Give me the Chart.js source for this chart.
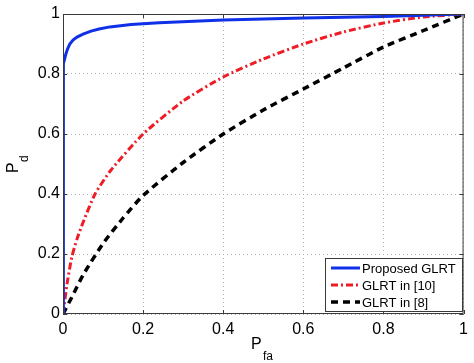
<!DOCTYPE html>
<html>
<head>
<meta charset="utf-8">
<script src="https://cdn.jsdelivr.net/npm/chart.js@4.4.0/dist/chart.umd.min.js"></script>
<style>
  html, body { margin: 0; padding: 0; background: #fff; }
  #wrap { width: 474px; height: 363px; position: relative; }
</style>
</head>
<body>
<div id="wrap"><canvas id="roc"></canvas></div>
<script>
// ROC curves (Pfa -> Pd)
const pfaProposed = [0, 0, 0.001, 0.002, 0.004, 0.007, 0.011, 0.017, 0.025, 0.035, 0.05, 0.07, 0.09, 0.117, 0.17, 0.24, 0.4, 0.6, 0.8, 1];
const pdProposed  = [0, 0.8, 0.82, 0.835, 0.85, 0.866, 0.882, 0.9, 0.913, 0.923, 0.933, 0.943, 0.95, 0.957, 0.965, 0.971, 0.98, 0.987, 0.992, 1];

const pfaGlrt10 = [0, 0.004, 0.01, 0.022, 0.035, 0.05, 0.08, 0.12, 0.2, 0.3, 0.4, 0.5, 0.6, 0.7, 0.8, 0.9, 1];
const pdGlrt10  = [0, 0.04, 0.1, 0.19, 0.25, 0.305, 0.4, 0.48, 0.6, 0.71, 0.79, 0.85, 0.9, 0.94, 0.97, 0.99, 1];

const pfaGlrt8 = [0, 0.022, 0.05, 0.1, 0.15, 0.2, 0.3, 0.4, 0.5, 0.6, 0.7, 0.8, 0.9, 1];
const pdGlrt8  = [0, 0.056, 0.13, 0.235, 0.32, 0.395, 0.505, 0.6, 0.68, 0.75, 0.82, 0.89, 0.945, 1];

const tickVals = [0, 0.2, 0.4, 0.6, 0.8, 1];

const FONT = '"Liberation Sans", Arial, sans-serif';
const pts = (xs, ys) => xs.map((x, i) => ({ x: x, y: ys[i] }));

// frame + inward ticks, like the matlab box
const framePlugin = {
  id: 'frame',
  afterDatasetsDraw(chart) {
    const { ctx, chartArea: a, scales } = chart;
    ctx.save();
    ctx.strokeStyle = '#3a3a3a';
    ctx.lineWidth = 1;
    ctx.setLineDash([]);
    ctx.strokeRect(a.left + 0.5, a.top + 0.5, a.right - a.left - 1, a.bottom - a.top - 1);
    ctx.beginPath();
    tickVals.forEach(v => {
      const x = Math.round(scales.x.getPixelForValue(v)) + 0.5;
      ctx.moveTo(x, a.bottom); ctx.lineTo(x, a.bottom - 4);
      ctx.moveTo(x, a.top); ctx.lineTo(x, a.top + 4);
      const y = Math.round(scales.y.getPixelForValue(v)) + 0.5;
      ctx.moveTo(a.left, y); ctx.lineTo(a.left + 4, y);
      ctx.moveTo(a.right, y); ctx.lineTo(a.right - 4, y);
    });
    ctx.stroke();
    ctx.restore();
  },
  afterDraw(chart) {
    const { ctx } = chart;
    ctx.save();
    ctx.fillStyle = '#000';
    // x title  P_fa
    ctx.font = '16px ' + FONT;
    ctx.textBaseline = 'alphabetic';
    ctx.textAlign = 'left';
    ctx.fillText('P', 251, 349);
    ctx.font = '12px ' + FONT;
    ctx.fillText('fa', 263, 360);
    // y title  P_d (rotated)
    ctx.translate(18, 173);
    ctx.rotate(-Math.PI / 2);
    ctx.font = '16px ' + FONT;
    ctx.fillText('P', 0, 0);
    ctx.font = '12px ' + FONT;
    ctx.fillText('d', 11, 10);
    ctx.restore();

    // legend box in the lower right corner
    const bx = 325, by = 258, bw = 137, bh = 53;
    ctx.save();
    ctx.fillStyle = '#fff';
    ctx.fillRect(bx, by, bw, bh);
    ctx.strokeStyle = '#3a3a3a';
    ctx.lineWidth = 1;
    ctx.strokeRect(bx + 0.5, by + 0.5, bw, bh);
    ctx.font = '13px ' + FONT;
    ctx.textBaseline = 'middle';
    chart.data.datasets.forEach((ds, i) => {
      const y = 268 + i * 17;
      ctx.strokeStyle = ds.borderColor;
      ctx.lineWidth = ds.borderWidth;
      ctx.setLineDash(ds.borderDash || []);
      ctx.beginPath();
      ctx.moveTo(331, y); ctx.lineTo(360, y);
      ctx.stroke();
      ctx.fillStyle = '#000';
      ctx.fillText(ds.label, 362, y + 1);
    });
    ctx.restore();
  }
};

new Chart(document.getElementById('roc'), {
  type: 'scatter',
  data: {
    datasets: [
      { label: 'Proposed GLRT', data: pts(pfaProposed, pdProposed), showLine: true,
        borderColor: '#1030e8', borderWidth: 3, pointRadius: 0, tension: 0 },
      { label: 'GLRT in [10]', data: pts(pfaGlrt10, pdGlrt10), showLine: true,
        borderColor: '#ee1c24', borderWidth: 3, borderDash: [7, 3, 2, 3], pointRadius: 0, tension: 0.2 },
      { label: 'GLRT in [8]', data: pts(pfaGlrt8, pdGlrt8), showLine: true,
        borderColor: '#000', borderWidth: 3.5, borderDash: [7, 5], pointRadius: 0, tension: 0.2 }
    ]
  },
  options: {
    responsive: true,
    maintainAspectRatio: false,
    animation: false,
    layout: { padding: { left: 0, right: 10, top: 14, bottom: 0 } },
    plugins: { legend: { display: false }, tooltip: { enabled: false } },
    scales: {
      x: {
        type: 'linear', min: 0, max: 1,
        afterBuildTicks: s => { s.ticks = tickVals.map(v => ({ value: v })); },
        afterFit: s => { s.height = 49; },
        grid: { color: '#b0b0b0', drawTicks: false, lineWidth: 1 },
        border: { display: false, dash: [1, 3] },
        ticks: { color: '#000', padding: 6, maxRotation: 0, font: { family: FONT, size: 16 },
          callback: v => String(v) }
      },
      y: {
        type: 'linear', min: 0, max: 1,
        afterBuildTicks: s => { s.ticks = tickVals.map(v => ({ value: v })); },
        afterFit: s => { s.width = 63; },
        grid: { color: '#b0b0b0', drawTicks: false, lineWidth: 1 },
        border: { display: false, dash: [1, 3] },
        ticks: { color: '#000', padding: 3, font: { family: FONT, size: 16 },
          callback: v => String(v) }
      }
    }
  },
  plugins: [framePlugin]
});
</script>
</body>
</html>
